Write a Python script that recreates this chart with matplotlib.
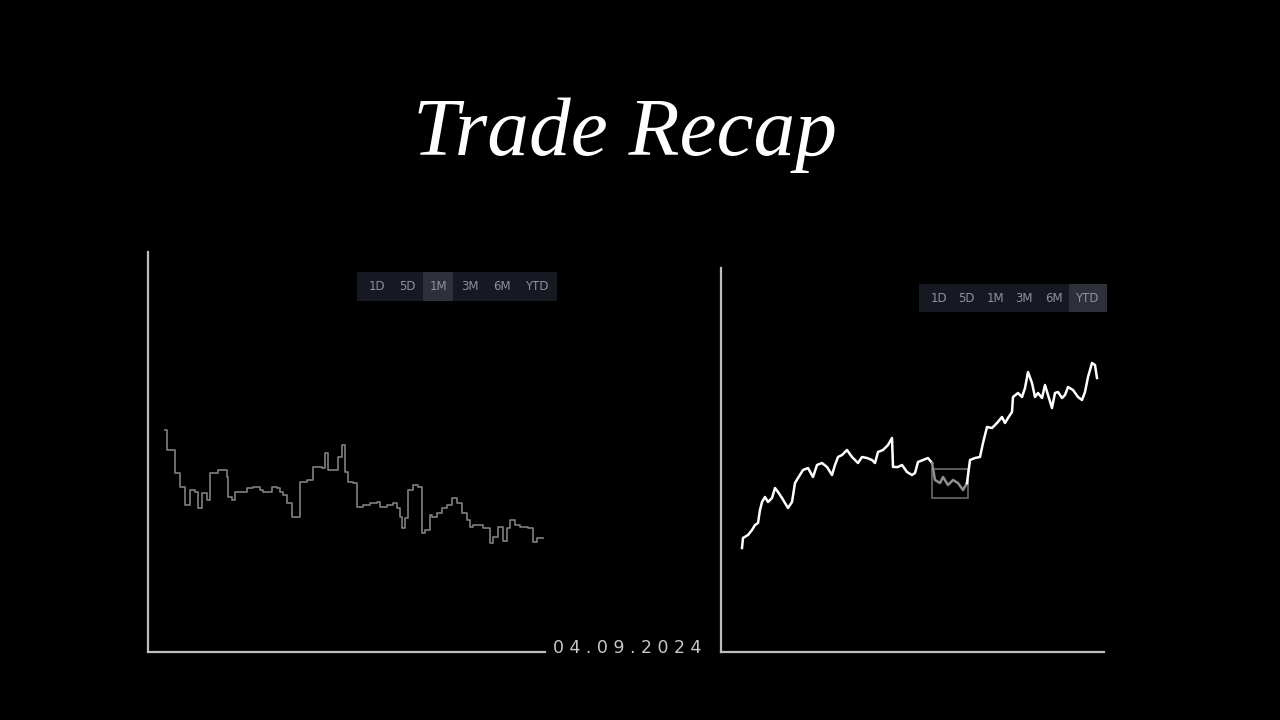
import matplotlib
matplotlib.use('Agg')
import matplotlib.pyplot as plt
from matplotlib.patches import Rectangle

# ---- data (x = steps along axis, y = height above baseline) ----
left_x = [17, 19, 25, 27, 32, 37, 42, 47, 50, 54, 59, 62, 70, 75, 79, 80, 84, 87, 99, 105,
          112, 115, 124, 129, 132, 135, 139, 144, 145, 152, 159, 165, 172, 174, 177, 180,
          185, 190, 194, 197, 200, 205, 209, 215, 222, 229, 232, 239, 245, 249, 252, 254,
          257, 260, 265, 270, 274, 277, 282, 284, 289, 294, 299, 304, 309, 314, 319, 322,
          325, 329, 335, 342, 345, 350, 355, 359, 362, 367, 372, 380, 385, 389, 395]
left_y = [222, 202, 202, 179, 165, 147, 162, 160, 144, 159, 152, 179, 182, 182, 175, 155,
          152, 160, 164, 165, 162, 160, 165, 164, 160, 157, 149, 135, 135, 170, 172, 185,
          185, 184, 199, 182, 182, 195, 207, 180, 170, 169, 145, 147, 149, 150, 145, 147,
          149, 144, 135, 124, 134, 162, 167, 165, 119, 122, 137, 135, 139, 144, 147, 154,
          149, 139, 132, 125, 127, 127, 124, 109, 115, 125, 111, 124, 132, 127, 125, 124,
          110, 114, 114]

right_x = [21, 22, 27, 31, 34, 37, 39, 41, 44, 47, 51, 54, 57, 61, 64, 67, 71, 74, 77, 82,
           87, 92, 96, 101, 106, 111, 114, 117, 121, 126, 131, 134, 137, 141, 146, 151, 154,
           157, 162, 167, 171, 172, 177, 181, 186, 191, 194, 197, 202, 207, 211, 214, 219,
           222, 227, 232, 237, 242, 246, 249, 254, 259, 262, 266, 271, 276, 281, 284, 287,
           291, 292, 297, 301, 304, 307, 311, 314, 317, 321, 324, 327, 331, 334, 337, 341,
           344, 347, 352, 357, 361, 364, 367, 371, 374, 376]
right_y = [104, 114, 117, 122, 127, 129, 142, 150, 155, 150, 154, 164, 160, 154, 149, 144,
           150, 169, 174, 182, 184, 175, 187, 189, 185, 177, 187, 195, 197, 202, 195, 192,
           189, 195, 194, 192, 189, 200, 202, 207, 214, 185, 185, 187, 180, 177, 179, 190,
           192, 194, 189, 172, 169, 175, 167, 172, 169, 162, 169, 192, 194, 195, 209, 225,
           224, 229, 235, 229, 234, 240, 255, 259, 255, 264, 280, 269, 255, 259, 254, 267,
           257, 244, 259, 260, 254, 257, 265, 262, 255, 252, 260, 275, 289, 287, 274]
focus_range = (211, 247)   # the boxed part of the YTD line
focus_box_y = (154, 183)

ranges = ['1D', '5D', '1M', '3M', '6M', 'YTD']
left_label_x = [377, 407, 438, 470, 502, 537]
right_label_x = [939, 966, 995, 1024, 1054, 1087]
title = 'Trade Recap'
date_text = '0 4 . 0 9 . 2 0 2 4'

W, H = 1280, 720
fig = plt.figure(figsize=(12.8, 7.2), dpi=100, facecolor='black')


def px_axes(x0, y_top, x1, y_bot):
    return fig.add_axes([x0 / W, 1 - y_bot / H, (x1 - x0) / W, (y_bot - y_top) / H])


def style_axes(ax, xmax, ymax):
    ax.set_facecolor('black')
    ax.set_xlim(0, xmax)
    ax.set_ylim(0, ymax)
    for side in ['top', 'right']:
        ax.spines[side].set_visible(False)
    for side in ['left', 'bottom']:
        ax.spines[side].set_color('#bdbdbd')
        ax.spines[side].set_linewidth(1.6)
    ax.set_xticks([])
    ax.set_yticks([])


def range_bar(x0, x1, y0, y1, label_x, active):
    fig.add_artist(Rectangle((x0 / W, 1 - y1 / H), (x1 - x0) / W, (y1 - y0) / H,
                             transform=fig.transFigure, facecolor='#161922', edgecolor='none'))
    for i, (lab, lx) in enumerate(zip(ranges, label_x)):
        if i == active:
            hw = 18 if lab == 'YTD' else 15
            right = x1 if lab == 'YTD' else lx + hw
            fig.add_artist(Rectangle(((lx - hw) / W, 1 - y1 / H), (right - lx + hw) / W,
                                     (y1 - y0) / H, transform=fig.transFigure,
                                     facecolor='#2e313a', edgecolor='none'))
        fig.text(lx / W, 1 - (y0 + y1) / 2 / H, lab, color='#8c919c', fontsize=8.5,
                 ha='center', va='center', family='DejaVu Sans')


# ---- left chart (1M) ----
ax1 = px_axes(148, 252, 545, 652)
style_axes(ax1, 397, 400)
ax1.plot(left_x, left_y, color='#808080', linewidth=1.2, drawstyle='steps-post')
range_bar(357, 557, 272, 301, left_label_x, 2)

# ---- right chart (YTD) ----
ax2 = px_axes(721, 268, 1104, 652)
style_axes(ax2, 383, 384)
a, b = focus_range
ia = min(i for i, x in enumerate(right_x) if x >= a)
ib = max(i for i, x in enumerate(right_x) if x <= b)
ax2.plot(right_x[:ia + 1], right_y[:ia + 1], color='white', linewidth=1.8)
ax2.plot(right_x[ia:ib + 1], right_y[ia:ib + 1], color='#8f8f8f', linewidth=1.8)
ax2.plot(right_x[ib:], right_y[ib:], color='white', linewidth=1.8)
ax2.add_patch(Rectangle((a, focus_box_y[0]), b - a, focus_box_y[1] - focus_box_y[0],
                        facecolor='none', edgecolor='#6a6a6a', linewidth=1.2))
range_bar(919, 1107, 284, 312, right_label_x, 5)

# ---- texts ----
fig.text(625 / W, 1 - 135 / H, title, color='white', fontsize=60, style='italic',
         ha='center', va='center', family='Liberation Serif')
fig.text(627 / W, 1 - 648 / H, date_text, color='#c8c8c8', fontsize=12.5,
         ha='center', va='center', family='DejaVu Sans')

fig.savefig('out.png', dpi=100, facecolor='black')
